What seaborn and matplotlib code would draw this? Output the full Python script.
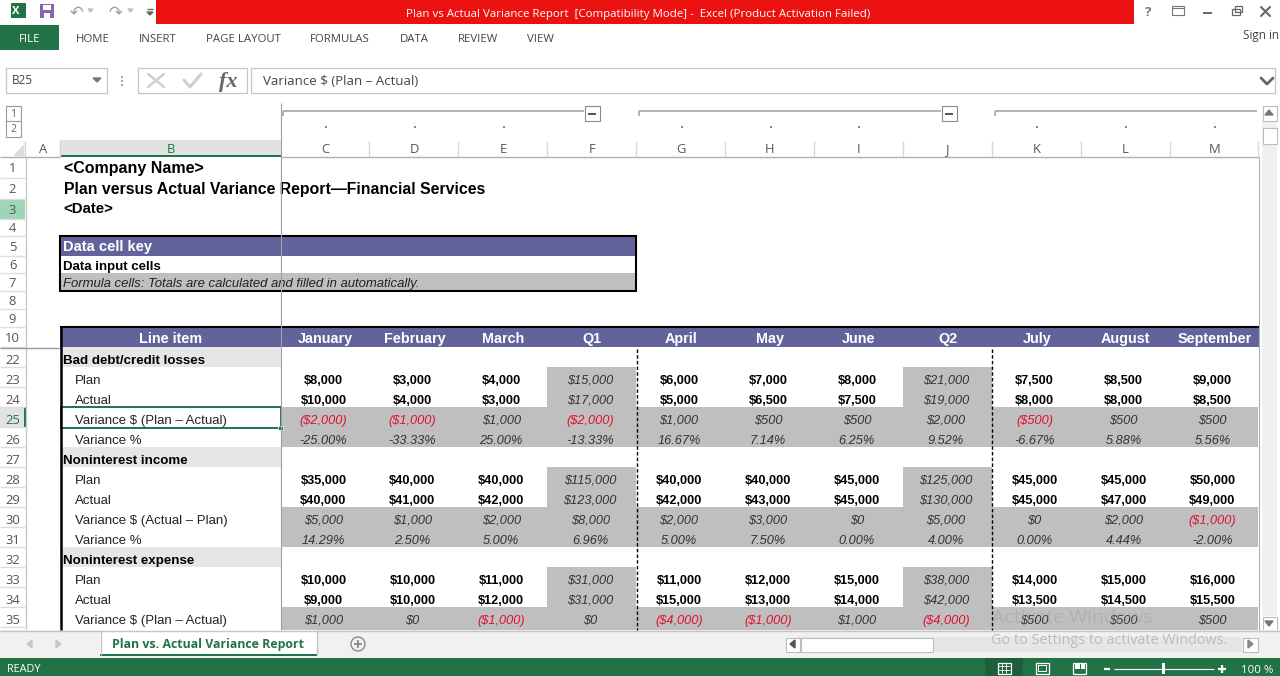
"Plan vs actual variance report, drawn like the Excel window"

import numpy as np
import pandas as pd
import matplotlib.pyplot as plt
import seaborn as sns
from matplotlib.colors import ListedColormap
from matplotlib.patches import Rectangle, Circle, Polygon

sns.set_theme(style='white')
plt.rcParams['font.family'] = ['Liberation Sans', 'DejaVu Sans']

# Table data
months = ['January', 'February', 'March', 'Q1', 'April', 'May', 'June', 'Q2', 'July', 'August', 'September']
col_letters = ['C', 'D', 'E', 'F', 'G', 'H', 'I', 'J', 'K', 'L', 'M']
row_numbers = [22, 23, 24, 25, 26, 27, 28, 29, 30, 31, 32, 33, 34, 35]
line_items = ['Bad debt/credit losses', 'Plan', 'Actual', 'Variance $ (Plan – Actual)', 'Variance %',
              'Noninterest income', 'Plan', 'Actual', 'Variance $ (Actual – Plan)', 'Variance %',
              'Noninterest expense', 'Plan', 'Actual', 'Variance $ (Plan – Actual)']
row_kinds = ['head', 'input', 'input', 'dollar', 'pct',
             'head', 'input', 'input', 'dollar', 'pct',
             'head', 'input', 'input', 'dollar']

debt_plan = [8000, 3000, 4000, 15000, 6000, 7000, 8000, 21000, 7500, 8500, 9000]
debt_actual = [10000, 4000, 3000, 17000, 5000, 6500, 7500, 19000, 8000, 8000, 8500]
debt_var = [-2000, -1000, 1000, -2000, 1000, 500, 500, 2000, -500, 500, 500]
debt_pct = [-25.00, -33.33, 25.00, -13.33, 16.67, 7.14, 6.25, 9.52, -6.67, 5.88, 5.56]
income_plan = [35000, 40000, 40000, 115000, 40000, 40000, 45000, 125000, 45000, 45000, 50000]
income_actual = [40000, 41000, 42000, 123000, 42000, 43000, 45000, 130000, 45000, 47000, 49000]
income_var = [5000, 1000, 2000, 8000, 2000, 3000, 0, 5000, 0, 2000, -1000]
income_pct = [14.29, 2.50, 5.00, 6.96, 5.00, 7.50, 0.00, 4.00, 0.00, 4.44, -2.00]
expense_plan = [10000, 10000, 11000, 31000, 11000, 12000, 15000, 38000, 14000, 15000, 16000]
expense_actual = [9000, 10000, 12000, 31000, 15000, 13000, 14000, 42000, 13500, 14500, 15500]
expense_var = [1000, 0, -1000, 0, -4000, -1000, 1000, -4000, 500, 500, 500]

table_rows = [None, debt_plan, debt_actual, debt_var, debt_pct,
              None, income_plan, income_actual, income_var, income_pct,
              None, expense_plan, expense_actual, expense_var]

top_row_labels = ['1', '2', '3', '4', '5', '6', '7', '8', '9', '10']
top_row_edges = [157, 178, 199, 219, 236, 256, 273, 291, 309, 327, 347]
ribbon_tabs = ['HOME', 'INSERT', 'PAGE LAYOUT', 'FORMULAS', 'DATA', 'REVIEW', 'VIEW']
ribbon_x = [93, 158, 243, 340, 414, 478, 540]

PURPLE = '#63639b'
GREY = '#bfbfbf'
GREEN = '#217346'
UI = ['Open Sans', 'DejaVu Sans']
COL_W = 88.9
COL_X = 280.5
ROW_Y = 347


def fmt(v, kind):
    if kind == 'pct':
        return f'{v:.2f}%'
    if v < 0:
        return f'(${-v:,})'
    return f'${v:,}'


fig = plt.figure(figsize=(12.8, 6.76), dpi=100, facecolor='white')


def pixel_axes(z):
    a = fig.add_axes([0, 0, 1, 1], zorder=z)
    a.set_xlim(0, 1280)
    a.set_ylim(676, 0)
    a.axis('off')
    a.patch.set_alpha(0)
    return a


back = pixel_axes(0)
over = pixel_axes(5)


def box(a, x0, y0, x1, y1, fc='none', ec='none', lw=0.0, **kw):
    a.add_patch(Rectangle((x0, y0), x1 - x0, y1 - y0, facecolor=fc, edgecolor=ec, linewidth=lw, **kw))


# y is the visual middle of the capitals, so rows keep one baseline
def txt(a, x, y, s, size=9.0, color='#444444', ha='left', family=UI, **kw):
    a.text(x, y + 0.5 * size, s, fontsize=size, color=color, ha=ha, va='baseline', family=family, **kw)


def hline(a, x0, x1, y, color, lw=1.0, **kw):
    a.plot([x0, x1], [y, y], color=color, lw=lw, solid_capstyle='butt', **kw)


def vline(a, x, y0, y1, color, lw=1.0, **kw):
    a.plot([x, x], [y0, y1], color=color, lw=lw, solid_capstyle='butt', **kw)


# Title bar
box(back, 156, 0, 1134, 24, fc='#ec1111')
txt(back, 638, 12.5, 'Plan vs Actual Variance Report  [Compatibility Mode] -  Excel (Product Activation Failed)',
    size=8.25, color='white', ha='center')
box(back, 11, 3, 26, 18, fc=GREEN)
txt(back, 15.5, 10.5, 'X', size=8, color='white', ha='center', weight='bold')
box(back, 40, 4, 54, 18, fc='#8a64b0')
box(back, 43, 5, 51, 10, fc='white')
box(back, 44, 13, 50, 18, fc='white')
txt(back, 77, 11, '↶', size=12, color='#a0a0a0', ha='center', family=['DejaVu Sans'])
txt(back, 115, 11, '↷', size=12, color='#a0a0a0', ha='center', family=['DejaVu Sans'])
back.add_patch(Polygon([[88, 9], [93, 9], [90.5, 12]], color='#c0c0c0'))
back.add_patch(Polygon([[128, 9], [133, 9], [130.5, 12]], color='#c0c0c0'))
hline(back, 147, 153, 9, '#666666')
back.add_patch(Polygon([[147, 12], [153, 12], [150, 15]], color='#666666'))

txt(back, 1148, 11, '?', size=9.5, color='#777777', ha='center', weight='bold')
box(back, 1172, 6, 1184, 15, ec='#777777', lw=0.8)
hline(back, 1172, 1184, 8, '#777777', lw=0.8)
hline(back, 1203, 1212, 13, '#666666', lw=1.4)
box(back, 1232, 9, 1240, 15, fc='white', ec='#666666', lw=0.9)
box(back, 1235, 6, 1242, 12, ec='#666666', lw=0.9)
back.plot([1261, 1270], [7, 16], color='#666666', lw=1.5)
back.plot([1261, 1270], [16, 7], color='#666666', lw=1.5)

# Ribbon tabs
box(back, 0, 25, 59, 50, fc=GREEN)
txt(back, 29.5, 37.5, 'FILE', size=8.2, color='white', ha='center')
for x, label in zip(ribbon_x, ribbon_tabs):
    txt(back, x, 37.5, label, size=8.2, color='#444444', ha='center')
txt(back, 1261, 34.5, 'Sign in', size=8.5, color='#444444', ha='center')

# Formula bar
box(back, 5.5, 67.5, 106.5, 92.5, fc='white', ec='#c6c6c6', lw=0.9)
txt(back, 12, 80, 'B25', size=8.5, color='#444444')
back.add_patch(Polygon([[93, 78], [101, 78], [97, 82]], color='#777777'))
for y in [76, 80, 84]:
    box(back, 121, y, 123, y + 1.6, fc='#a8a8a8')
box(back, 137.5, 67.5, 246.5, 92.5, fc='white', ec='#c6c6c6', lw=0.9)
back.plot([148, 164], [74, 87], color='#cfcfcf', lw=1.8)
back.plot([148, 164], [87, 74], color='#cfcfcf', lw=1.8)
back.plot([184, 190, 201], [80, 87, 74], color='#cfcfcf', lw=2.2)
txt(back, 228, 79, 'fx', size=16, color='#666666', ha='center', family=['Liberation Serif'], style='italic', weight='bold')
box(back, 250.5, 67.5, 1274.5, 92.5, fc='white', ec='#c6c6c6', lw=0.9)
txt(back, 263, 80, 'Variance $ (Plan – Actual)', size=9.5, color='#444444')
back.plot([1261, 1267, 1273], [78, 84, 78], color='#666666', lw=2.0)

# Outline bar
for y0, label in [(105.5, '1'), (121, '2')]:
    box(back, 5.5, y0, 20.5, y0 + 15.5, fc='white', ec='#9a9a9a', lw=0.8)
    txt(back, 13, y0 + 7.5, label, size=7.5, color='#666666', ha='center')
for x0, x1 in [(283, 584), (639, 941), (995, 1257)]:
    hline(back, x0, x1, 111, '#a6a6a6', lw=1.2)
    vline(back, x0, 111, 116, '#a6a6a6', lw=1.2)
for x in [584, 941]:
    box(back, x + 0.5, 105.5, x + 15.5, 120.5, fc='white', ec='#8a8a8a', lw=0.8)
    hline(back, x + 4, x + 12, 113.5, '#555555', lw=1.4)
for i in [0, 1, 2, 4, 5, 6, 8, 9, 10]:
    x = round(325 + COL_W * i)
    box(back, x, 126, x + 2, 128, fc='#8a8a8a')

# Column header strip
back.add_patch(Polygon([[14, 155], [23, 155], [23, 145]], color='#dcdcdc'))
vline(back, 25, 141, 157, '#d4d4d4')
vline(back, 60, 141, 157, '#d4d4d4')
txt(back, 43, 148.5, 'A', size=9.4, color='#555555', ha='center')
box(back, 60, 140, 281, 155, fc='#e1e3e2')
box(back, 60, 155, 281, 157, fc=GREEN)
txt(back, 170.5, 148.5, 'B', size=9.4, color=GREEN, ha='center')
for i, letter in enumerate(col_letters):
    txt(back, 325.5 + COL_W * i, 148.5, letter, size=9.4, color='#555555', ha='center')
    vline(back, COL_X + COL_W * (i + 1), 141, 156, '#d8d8d8')
hline(back, 0, 60, 156.5, '#b0b0b0')
hline(back, 281, 1259, 156.5, '#b0b0b0')

# Row numbers
vline(back, 25.5, 157, 630, '#c8c8c8')
box(back, 0, 199, 25, 219, fc='#9fd5b7')
box(back, 0, ROW_Y + 60, 25, ROW_Y + 80, fc='#e1e3e2')
box(back, 23.5, ROW_Y + 60, 25.5, ROW_Y + 80, fc=GREEN)
for j, label in enumerate(top_row_labels):
    y0, y1 = top_row_edges[j], top_row_edges[j + 1]
    txt(back, 12.5, (y0 + y1) / 2, label, size=9.4, color='#555555', ha='center')
    hline(back, 0, 25, y1 - 0.5, '#dddddd')
for j, n in enumerate(row_numbers):
    y = ROW_Y + 20 * j
    color = GREEN if n == 25 else '#555555'
    txt(back, 12.5, y + 12, str(n), size=9.4, color=color, ha='center')
    hline(back, 0, 25, y + 19.5, '#dddddd')
hline(back, 0, 60, 348, '#9a9a9a', lw=1.0)

# Header text rows
ARIAL = ['Liberation Sans']
txt(back, 64, 167.5, '<Company Name>', size=11.5, color='black', weight='bold', family=ARIAL)
txt(back, 64, 188, 'Plan versus Actual Variance Report—Financial Services', size=11.48, color='black', weight='bold', family=ARIAL)
txt(back, 63, 208, '<Date>', size=10.8, color='black', weight='bold', family=ARIAL)

# Data cell key
box(back, 60, 236, 636, 256, fc=PURPLE)
box(back, 60, 273, 636, 291, fc=GREY)
box(back, 60, 236, 636, 291, ec='black', lw=1.5)
txt(back, 63, 246, 'Data cell key', size=10.6, color='white', weight='bold', family=ARIAL)
txt(back, 63, 265, 'Data input cells', size=9.5, color='black', weight='bold', family=ARIAL)
txt(back, 63, 282, 'Formula cells: Totals are calculated and filled in automatically.', size=9.45, color='#222222', style='italic', family=ARIAL)

# Table header
box(back, 60, 327, 1259, ROW_Y, fc=PURPLE)
hline(back, 60, 1259, 327, 'black', lw=1.5)
txt(back, 170.5, 338, 'Line item', size=10.4, color='white', ha='center', weight='bold', family=ARIAL)
for i, month in enumerate(months):
    txt(back, 325.5 + COL_W * i, 338, month, size=10.4, color='white', ha='center', weight='bold', family=ARIAL)

# Line item column and values as heatmaps on the same 20 px rows
BASE_DROP = 0.83
label_fill = pd.DataFrame({'B': [1 if k == 'head' else 0 for k in row_kinds]}, index=row_numbers)
ax_b = fig.add_axes([60 / 1280, 1 - (ROW_Y + 280) / 676, COL_X / 1280 - 60 / 1280, 280 / 676], zorder=1)
sns.heatmap(label_fill, ax=ax_b, cmap=ListedColormap(['white', '#e6e6e6']), vmin=0, vmax=1, cbar=False,
            xticklabels=False, yticklabels=False)
ax_b.set_xlabel('')
ax_b.set_ylabel('')
for j, (item, kind) in enumerate(zip(line_items, row_kinds)):
    if kind == 'head':
        ax_b.text(3 / 221, j + BASE_DROP, item, fontsize=9.6, weight='bold', color='black', ha='left', va='baseline', family=ARIAL)
    else:
        ax_b.text(15 / 221, j + BASE_DROP, item, fontsize=9.5, color='#222222', ha='left', va='baseline', family=ARIAL)

fill = np.zeros((len(row_kinds), len(months)))
labels = []
for j, kind in enumerate(row_kinds):
    if kind == 'head':
        labels.append([''] * len(months))
        continue
    labels.append([fmt(v, kind) for v in table_rows[j]])
    for i, month in enumerate(months):
        if kind != 'input' or month.startswith('Q'):
            fill[j, i] = 1

ax_t = fig.add_axes([COL_X / 1280, 1 - (ROW_Y + 280) / 676, COL_W * 11 / 1280, 280 / 676], zorder=1)
sns.heatmap(fill, ax=ax_t, cmap=ListedColormap(['white', GREY]), vmin=0, vmax=1, cbar=False,
            annot=np.array(labels), fmt='', annot_kws={'fontsize': 9.2, 'family': ARIAL},
            xticklabels=False, yticklabels=False)
for t in ax_t.texts:
    col = int(t.get_position()[0])
    row = int(t.get_position()[1])
    t.set_x(t.get_position()[0] - 1.5 / COL_W)
    t.set_y(row + BASE_DROP)
    t.set_va('baseline')
    if fill[row, col] == 1:
        t.set_style('italic')
        t.set_weight('normal')
        t.set_color('#e0102f' if t.get_text().startswith('(') else '#333333')
    else:
        t.set_weight('bold')
        t.set_color('black')

# Frame lines above the cells
box(over, COL_X, ROW_Y + 280, COL_X + COL_W * 11, 630, fc=GREY)
vline(over, 60.7, 327, 630, 'black', lw=1.8)
vline(over, 636.5, 349, 630, 'black', lw=1.0, linestyle=(0, (2.5, 1.6)))
vline(over, 992.3, 349, 630, 'black', lw=1.0, linestyle=(0, (2.5, 1.6)))
vline(over, 1259, 157, 630, '#b0b0b0', lw=0.8)
vline(over, 280.7, 103, 630, '#a0a0a0', lw=0.8)
box(over, 60.5, ROW_Y + 60, 280.5, ROW_Y + 80.5, ec=GREEN, lw=1.4)
box(over, 278, ROW_Y + 78.5, 283, ROW_Y + 83, fc=GREEN, ec='white', lw=0.5)

# Vertical scrollbar
box(over, 1262, 120, 1277, 616, fc='#f0f0f0')
box(over, 1262.5, 105.5, 1276.5, 120.5, fc='white', ec='#bdbdbd', lw=0.8)
over.add_patch(Polygon([[1265, 115], [1273, 115], [1269, 110]], color='#777777'))
box(over, 1262.5, 127.5, 1276.5, 143.5, fc='white', ec='#bdbdbd', lw=0.8)
box(over, 1262.5, 616.5, 1276.5, 630.5, fc='white', ec='#bdbdbd', lw=0.8)
over.add_patch(Polygon([[1265, 621], [1273, 621], [1269, 626]], color='#777777'))

# Sheet tabs
box(over, 0, 630, 1280, 658, fc='#f1f1f1')
hline(over, 0, 1280, 630.5, '#c4c4c4')
over.add_patch(Polygon([[32, 640], [32, 648], [27, 644]], color='#c8c8c8'))
over.add_patch(Polygon([[56, 640], [56, 648], [61, 644]], color='#c8c8c8'))
box(over, 100, 630, 317, 655, fc='white')
vline(over, 100.5, 630, 655, '#c4c4c4')
vline(over, 316.5, 630, 655, '#c4c4c4')
box(over, 100, 653.5, 317, 655.5, fc=GREEN)
txt(over, 208.5, 643.5, 'Plan vs. Actual Variance Report', size=8.95, color=GREEN, ha='center', weight='bold')
over.add_patch(Circle((358, 644), 7, facecolor='none', edgecolor='#8a8a8a', linewidth=1.0))
hline(over, 354, 362, 644, '#777777', lw=1.1)
vline(over, 358, 640, 648, '#777777', lw=1.1)

# Horizontal scrollbar
box(over, 798, 637, 1242, 652, fc='#e6e6e6')
box(over, 785.5, 637.5, 799.5, 651.5, fc='white', ec='#bdbdbd', lw=0.8)
over.add_patch(Polygon([[795, 640], [795, 648], [790, 644]], color='#555555'))
box(over, 800.5, 637.5, 932.5, 651.5, fc='white', ec='#bdbdbd', lw=0.8)
box(over, 1242.5, 637.5, 1257.5, 651.5, fc='white', ec='#bdbdbd', lw=0.8)
over.add_patch(Polygon([[1248, 640], [1248, 648], [1253, 644]], color='#888888'))

# Activation watermark
txt(over, 992, 616, 'Activate Windows', size=14, color='#9a9a9a', alpha=0.4)
txt(over, 991, 639, 'Go to Settings to activate Windows.', size=10.4, color='#bcbcbc')

# Status bar
box(over, 0, 658, 1280, 676, fc=GREEN)
txt(over, 7, 668.5, 'READY', size=7.8, color='white')
box(over, 985, 658, 1023, 676, fc='#1c5f3a')
for x0 in [997, 1035, 1072]:
    box(over, x0 + 0.5, 662.5, x0 + 13.5, 673.5, fc='none', ec='white', lw=0.9)
for x in [1001.5, 1006]:
    vline(over, x, 663, 673, 'white', lw=0.6)
for y in [666, 670]:
    hline(over, 998, 1010, y, 'white', lw=0.6)
box(over, 1038, 665, 1046, 671, ec='white', lw=0.7)
box(over, 1075, 663, 1080, 669, fc='white')
box(over, 1081, 663, 1085, 669, fc='white')
hline(over, 1104, 1110, 668.5, 'white', lw=1.6)
hline(over, 1114, 1214, 668.5, 'white', lw=0.8)
box(over, 1162, 663, 1165, 674, fc='white')
hline(over, 1218, 1226, 668.5, 'white', lw=1.6)
vline(over, 1222, 664.5, 672.5, 'white', lw=1.6)
txt(over, 1257, 668.5, '100 %', size=8.2, color='white', ha='center')

fig.savefig('out.png', dpi=100)
